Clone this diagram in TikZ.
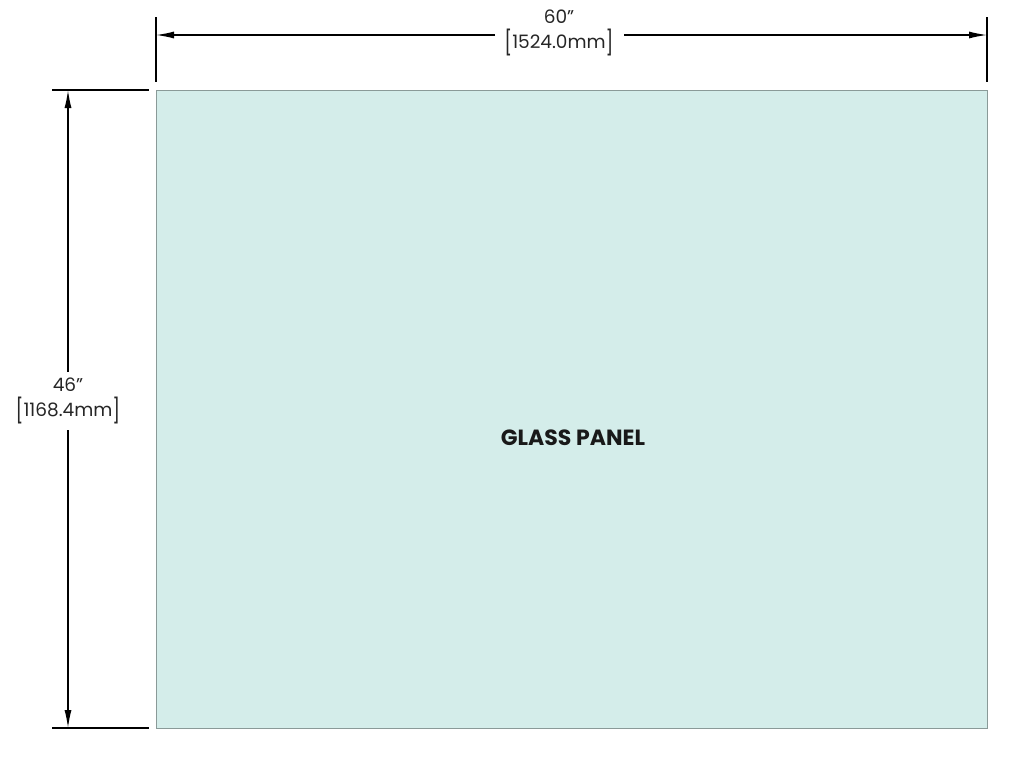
\documentclass[tikz,border=0pt]{standalone}
\usepackage{fontspec}
\setmainfont{Poppins}
\usetikzlibrary{arrows.meta}
\definecolor{glass}{HTML}{D4EDEA}
\definecolor{edge}{HTML}{8A9A98}
\newcommand{\lbr}{\raisebox{-0.12em}{\scalebox{1}[1.3]{[}}}
\newcommand{\rbr}{\raisebox{-0.12em}{\scalebox{1}[1.3]{]}}}
\newcommand{\inch}{\symbol{34}}
\begin{document}
\begin{tikzpicture}[x=1pt,y=-1pt,
  ext/.style={line width=1.3pt,black},
  dimline/.style={line width=1.3pt,black,-{Latex[length=18pt,width=7pt]}},
  dimtext/.style={font=\fontsize{18.5}{25}\selectfont,inner sep=0pt,align=center,text=black!85}]
\useasboundingbox (0,0) rectangle (1024,761);
% panel
\node[draw=edge,line width=0.8pt,fill=glass,minimum width=831pt,minimum height=638pt,inner sep=0pt,anchor=north west] (panel) at (156,90) {};
\node[font=\fontsize{22}{26}\selectfont\bfseries,text=black!90] (lbl) at (573,438) {GLASS PANEL};
% top dimension
\coordinate (tl0) at (156,17); \coordinate (tl1) at (156,82);
\coordinate (tr0) at (987,17); \coordinate (tr1) at (987,82);
\draw[ext] (tl0) -- (tl1);
\draw[ext] (tr0) -- (tr1);
\node[dimtext] (wtxt) at (559,33) {60\inch\\\lbr1524.0mm\rbr};
\coordinate (al) at (156,35); \coordinate (ar) at (987,35);
\coordinate (gl) at (495,35); \coordinate (gr) at (624,35);
\draw[dimline] (gl) -- (al);
\draw[dimline] (gr) -- (ar);
% left dimension
\coordinate (lt0) at (52,90); \coordinate (lt1) at (149,90);
\coordinate (lb0) at (52,728); \coordinate (lb1) at (149,728);
\draw[ext] (lt0) -- (lt1);
\draw[ext] (lb0) -- (lb1);
\node[dimtext] (htxt) at (68,401) {46\inch\\\lbr1168.4mm\rbr};
\coordinate (at) at (68,90); \coordinate (ab) at (68,728);
\coordinate (gt) at (68,372); \coordinate (gb) at (68,430);
\draw[dimline] (gt) -- (at);
\draw[dimline] (gb) -- (ab);
\end{tikzpicture}
\end{document}
